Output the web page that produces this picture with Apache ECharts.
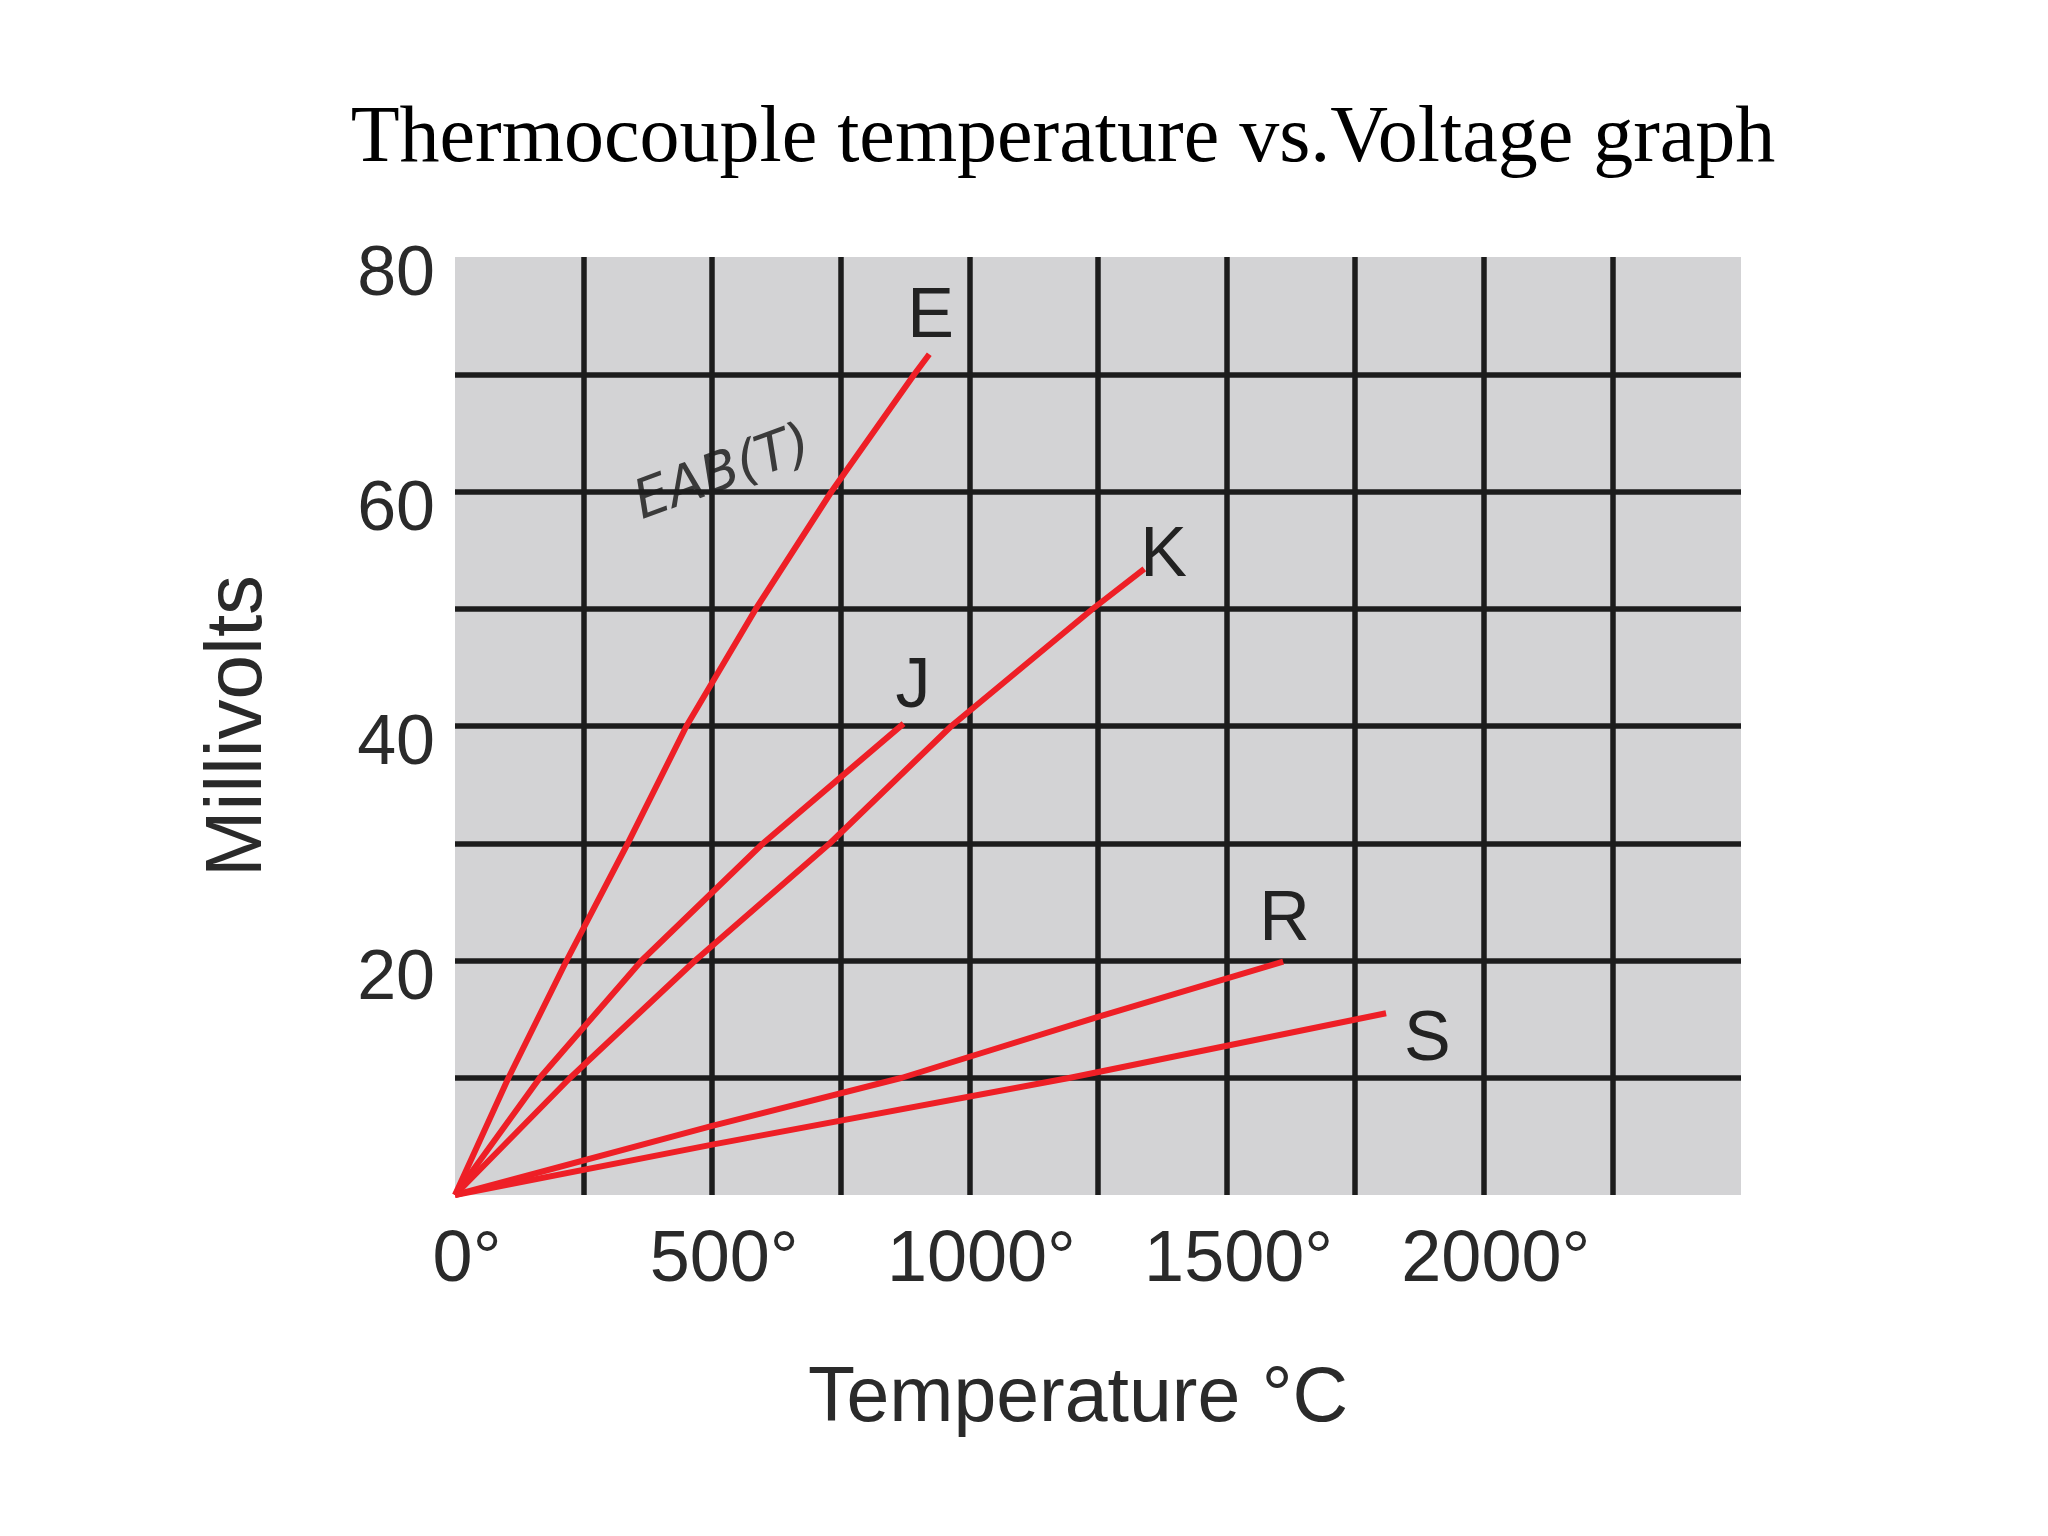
<!DOCTYPE html>
<html>
<head>
<meta charset="utf-8">
<script src="https://cdn.jsdelivr.net/npm/echarts@6/dist/echarts.min.js"></script>
<style>
  html, body { margin: 0; padding: 0; background: #fff; }
  #main { width: 2048px; height: 1536px; }
</style>
</head>
<body>
<div id="main"></div>
<script>
// values (temperature °C, millivolts)
const eTemp = [0, 104, 217, 336, 450, 585, 732, 893, 922];
const eMv   = [0, 10, 20, 30, 40, 50, 60, 70, 71.7];
const jTemp = [0, 165, 363, 599, 872];
const jMv   = [0, 10, 20, 30, 40.2];
const kTemp = [0, 224, 467, 729, 965, 1240, 1340];
const kMv   = [0, 10, 20, 30, 40, 50, 53.4];
const rTemp = [0, 500, 869, 1250, 1610];
const rMv   = [0, 5.9, 10, 15.2, 19.9];
const sTemp = [0, 500, 1196, 1810];
const sMv   = [0, 4.3, 10, 15.5];

const xTickLabels = [0, 500, 1000, 1500, 2000];
const yTickLabels = [20, 40, 60, 80];

const pair = (xs, ys) => xs.map((x, i) => [x, ys[i]]);

const curves = [
  { name: 'E', data: pair(eTemp, eMv), offset: [-22, -37] },
  { name: 'J', data: pair(jTemp, jMv), offset: [-8, -36] },
  { name: 'K', data: pair(kTemp, kMv), offset: [-4, -12] },
  { name: 'R', data: pair(rTemp, rMv), offset: [-24, -41] },
  { name: 'S', data: pair(sTemp, sMv), offset: [18, 27] }
];

const chart = echarts.init(document.getElementById('main'));

chart.setOption({
  backgroundColor: '#ffffff',
  animation: false,
  title: {
    text: 'Thermocouple temperature vs.Voltage graph',
    left: 1058,
    textAlign: 'center',
    top: 95,
    textStyle: {
      fontFamily: 'Liberation Serif',
      fontWeight: 'normal',
      fontSize: 80,
      color: '#000'
    }
  },
  grid: {
    left: 455,
    top: 257,
    width: 1286,
    height: 938,
    show: true,
    backgroundColor: '#d3d3d5',
    borderWidth: 0
  },
  xAxis: {
    type: 'value',
    min: 0,
    max: 2500,
    interval: 250,
    name: 'Temperature °C',
    nameLocation: 'middle',
    nameGap: 166,
    nameTextStyle: {
      fontFamily: 'Liberation Sans',
      fontSize: 77,
      color: '#2a2a2a',
      padding: [0, 40, 0, 0]
    },
    axisLine: { show: false },
    axisTick: { show: false },
    axisLabel: {
      margin: 30,
      fontFamily: 'Liberation Sans',
      fontSize: 72,
      color: '#2a2a2a',
      padding: [0, 0, 0, 24],
      formatter: v => xTickLabels.includes(v) ? v + '°' : ''
    },
    splitLine: {
      show: true,
      showMinLine: false,
      showMaxLine: false,
      lineStyle: { color: '#1c1c1c', width: 5.5 }
    }
  },
  yAxis: {
    type: 'value',
    min: 0,
    max: 80,
    interval: 10,
    name: 'Millivolts',
    nameLocation: 'middle',
    nameGap: 176,
    nameTextStyle: {
      fontFamily: 'Liberation Sans',
      fontSize: 80,
      color: '#2a2a2a'
    },
    axisLine: { show: false },
    axisTick: { show: false },
    axisLabel: {
      margin: 20,
      fontFamily: 'Liberation Sans',
      fontSize: 70,
      color: '#2a2a2a',
      verticalAlign: 'top',
      lineHeight: 38,
      formatter: v => yTickLabels.includes(v) ? String(v) : ''
    },
    splitLine: {
      show: true,
      showMinLine: false,
      showMaxLine: false,
      lineStyle: { color: '#1c1c1c', width: 5.5 }
    }
  },
  graphic: [{
    // handwritten note on the picture
    type: 'text',
    left: 628,
    top: 418,
    rotation: 0.35,
    style: {
      text: 'EAB(T)',
      font: 'italic 54px "DejaVu Sans"',
      fill: '#3a3a3a'
    }
  }],
  series: curves.map(c => ({
    name: c.name,
    type: 'line',
    data: c.data,
    showSymbol: false,
    symbol: 'none',
    lineStyle: { color: '#ee1f26', width: 6, join: 'round' },
    endLabel: {
      show: true,
      formatter: '{a}',
      distance: 0,
      offset: c.offset,
      fontFamily: 'Liberation Sans',
      fontSize: 70,
      color: '#222'
    }
  }))
});
</script>
</body>
</html>
